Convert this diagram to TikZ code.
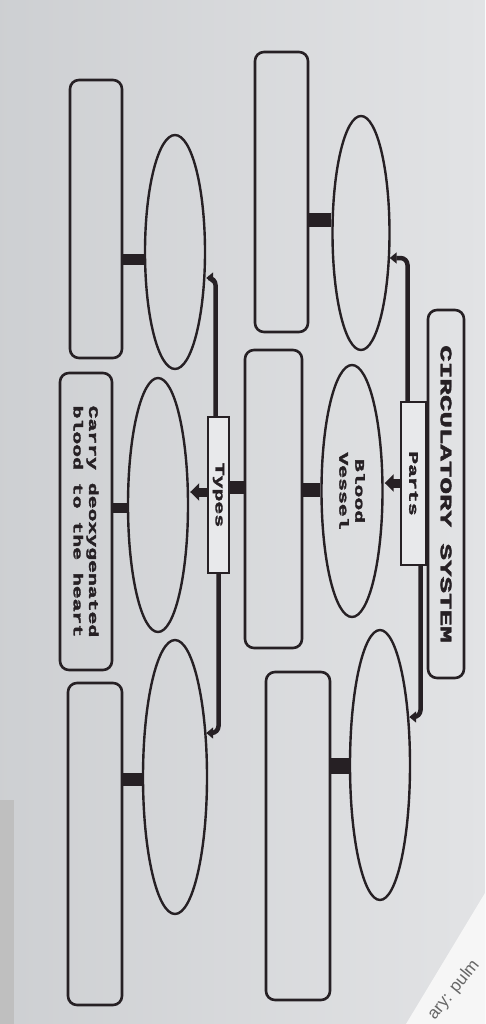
\documentclass[tikz,border=0pt]{standalone}
\usepackage{fontspec}
\usepackage{graphicx}
\newfontfamily\lblfont[FakeBold=2.2]{Liberation Mono}
\usetikzlibrary{arrows.meta,shapes.geometric}
\definecolor{paper}{RGB}{214,216,219}
\definecolor{paperlight}{RGB}{226,227,229}
\definecolor{ink}{RGB}{38,32,36}
\definecolor{boxfill}{RGB}{232,233,235}
\newcommand{\wtxt}[1]{\scalebox{1.65}[1]{#1}}
\tikzset{
  rbox/.style={draw=ink, line width=2.6pt, rounded corners=9pt, rectangle, inner sep=0pt, rotate=-90, align=center,
    font=\lblfont\bfseries\fontsize{13}{15.5}\selectfont, text=ink},
  lblbox/.style={draw=ink, line width=1.6pt, fill=boxfill, rectangle, inner sep=0pt, rotate=-90,
    font=\lblfont\bfseries\fontsize{13}{15}\selectfont, text=ink},
  oval/.style={draw=ink, line width=2.4pt, ellipse, inner sep=0pt},
  bar/.style={draw=ink, line width=#1, line cap=butt},
  bar/.default=12pt,
  thickarrow/.style={draw=ink, line width=9pt, -{Triangle[width=17pt,length=9pt]}},
  conn/.style={draw=ink, line width=4.5pt, rounded corners=7pt, -{Triangle[width=11pt,length=7pt]}},
}
\begin{document}
\begin{tikzpicture}[x=1pt,y=-1pt]
\useasboundingbox (0,0) rectangle (485,1024);
\shade[left color=paper!96!black, right color=paperlight] (0,0) rectangle (485,1024);
% other page in the corner
\fill[white!93!gray] (485,893) -- (485,1024) -- (406,1024) -- cycle;
\node[rotate=51, font=\fontspec{Liberation Sans}\fontsize{17}{19}\selectfont, text=black!60, inner sep=0pt] (corner) at (454,990) {ary: pulm};
% halftone scrap at the left edge
\fill[black!25] (0,800) rectangle (14,1024);

% title and category boxes
\node[rbox, minimum width=368pt, minimum height=36pt, font=\lblfont\bfseries\fontsize{16}{18}\selectfont] (title) at (446,494) {\scalebox{1.72}[1]{CIRCULATORY SYSTEM}};
\node[lblbox, minimum width=163pt, minimum height=25pt] (parts) at (413.5,483.5) {\wtxt{Parts}};
\node[lblbox, minimum width=156pt, minimum height=21pt] (types) at (218.5,495) {\wtxt{Types}};

% right column
\node[rbox, minimum width=280pt, minimum height=53pt] (trr) at (281.5,192) {};
\node[oval, minimum width=57pt, minimum height=234pt] (tre) at (361,233) {};
\node[oval, minimum width=61pt, minimum height=252pt] (bv) at (352,491) {};
\node[rotate=-90, align=center, font=\lblfont\bfseries\fontsize{13}{16}\selectfont, text=ink] (bvtext) at (bv) {\wtxt{Blood}\\\wtxt{Vessel}};
\node[rbox, minimum width=298pt, minimum height=57pt] (mid) at (273.5,499) {};
\node[rbox, minimum width=328pt, minimum height=64pt] (brr) at (298,836) {};
\node[oval, minimum width=60pt, minimum height=270pt] (bre) at (380,765) {};

% left column
\node[rbox, minimum width=278pt, minimum height=52pt] (tlr) at (96,219) {};
\node[oval, minimum width=60pt, minimum height=234pt] (tle) at (175,252) {};
\node[rbox, minimum width=297pt, minimum height=52pt] (carry) at (86,521.5) {\wtxt{Carry deoxygenated}\\\wtxt{blood to the heart}};
\node[oval, minimum width=60pt, minimum height=254pt] (mle) at (158,505) {};
\node[rbox, minimum width=322pt, minimum height=54pt] (blr) at (95,844) {};
\node[oval, minimum width=64pt, minimum height=274pt] (ble) at (175,777) {};

% bars
\draw[bar=10pt] (parts.north |- 0,480) -- (title.south |- 0,480);
\draw[bar=14pt] (mid.north |- 0,490) -- (bv.west |- 0,490);
\draw[bar=13pt] (types.north |- 0,487) -- (mid.south |- 0,487);
\draw[bar=14pt] (trr.north |- 0,220) -- (tre.west |- 0,220);
\draw[bar=16pt] (brr.north |- 0,766) -- ([xshift=1pt]bre.west |- 0,766);
\draw[bar=11pt] (tlr.north |- 0,259) -- (tle.west |- 0,259);
\draw[bar=10pt] (carry.north |- 0,508) -- (mle.west |- 0,508);
\draw[bar=13pt] (blr.north |- 0,779) -- (ble.west |- 0,779);

% arrows
\draw[thickarrow] (parts.south |- 0,483) -- ([xshift=1pt]bv.east |- 0,483);
\draw[thickarrow] (types.south |- 0,492) -- ([xshift=1pt]mle.east |- 0,492);
\draw[conn] ([xshift=-6pt]parts.west) |- ([xshift=-1pt,yshift=-25pt]tre.east);
\draw[conn] ([xshift=7pt]parts.east) |- ([xshift=-2pt,yshift=48pt]bre.east);
\draw[conn] ([xshift=-3pt]types.west) |- ([yshift=-26pt]tle.east);
\draw[conn] ([xshift=0pt]types.east) |- ([xshift=-2pt,yshift=44pt]ble.east);
\end{tikzpicture}
\end{document}
